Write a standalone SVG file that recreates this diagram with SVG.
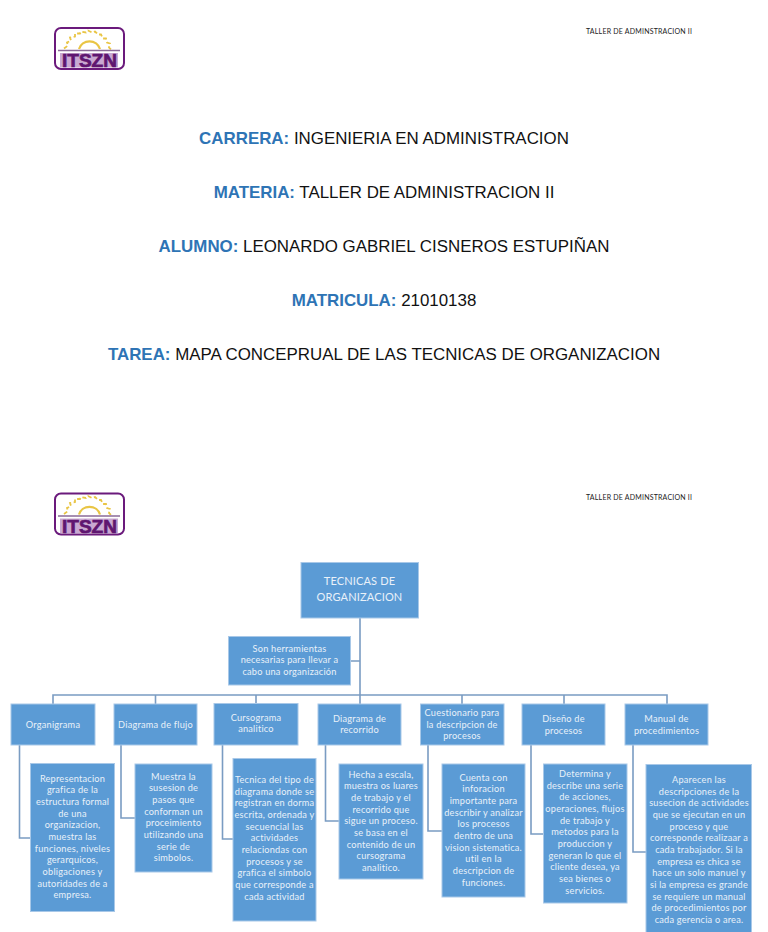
<svg xmlns="http://www.w3.org/2000/svg" width="768" height="932" viewBox="0 0 768 932">
<style>
.hd{font:16.9px "Liberation Sans",Arial,sans-serif;fill:#111;text-anchor:middle}
.hd tspan{font-weight:bold;fill:#2e74b5}
.tl{font:7px Lato,sans-serif;fill:#222}
.bx{fill:#5b9bd5;stroke:#a8c8e8;stroke-width:1}
.t{font:9.2px Lato,sans-serif;letter-spacing:.22px;fill:#e9f1f9;text-anchor:middle}
.t2{font:11px Lato,sans-serif;letter-spacing:.15px;fill:#e9f1f9;text-anchor:middle}
.c{fill:none;stroke:#7a9cc2;stroke-width:1.6}
.lg{font:bold 19px "Liberation Sans",sans-serif;fill:#5f1670;text-anchor:middle;stroke:#5f1670;stroke-width:.7}
</style>
<defs>
<g id="logoart">
<rect x="55" y="28" width="69" height="41" rx="6" fill="#fff" stroke="#6b1a7c" stroke-width="2"/>
<path d="M79 49a11 11 0 0 1 21 0" fill="none" stroke="#e9c545" stroke-width="2.200"/>
<path transform="translate(0 2.500)" d="M64 46l4-3-1-3 4-2-1-3 5-1 0-3 5 0 1-2 5 1 2-2 4 2 3-1 3 3 3 0 2 4 3 0 1 4 3 1-1 4 3 3" fill="none" stroke="#e9c545" stroke-width="1.800" stroke-dasharray="4 2.500"/>
<path d="M58 50.500H120" stroke="#8a6a98" stroke-width="1.600"/>
<rect x="60" y="53" width="58" height="14.500" fill="#c9a8d2"/>
</g>
</defs>
<rect width="768" height="932" fill="#fff"/>
<g id="logo1"><use href="#logoart"/><text class="lg" x="89.500" y="67" textLength="55" lengthAdjust="spacingAndGlyphs">ITSZN</text></g>
<text id="header1" class="tl" x="586" y="34" textLength="106">TALLER DE ADMINSTRACION II</text>
<g id="titles">
<text class="hd" x="384" y="144"><tspan>CARRERA:</tspan> INGENIERIA EN ADMINISTRACION</text>
<text class="hd" x="384" y="198"><tspan>MATERIA:</tspan> TALLER DE ADMINISTRACION II</text>
<text class="hd" x="384" y="252"><tspan>ALUMNO:</tspan> LEONARDO GABRIEL CISNEROS ESTUPIÑAN</text>
<text class="hd" x="384" y="306"><tspan>MATRICULA:</tspan> 21010138</text>
<text class="hd" x="384" y="360"><tspan>TAREA:</tspan> MAPA CONCEPRUAL DE LAS TECNICAS DE ORGANIZACION</text>
</g>
<g id="logo2"><use href="#logoart" y="465.500"/><text class="lg" x="89.500" y="532.500" textLength="55" lengthAdjust="spacingAndGlyphs">ITSZN</text></g>
<text id="header2" class="tl" x="586" y="500" textLength="106">TALLER DE ADMINSTRACION II</text>
<g id="connectors">
<path class="c" d="M360 618V704M350 661H360M53 704V695H667V704M155.500 695V704M256 695V703M462 695V704M564 695V704"/>
<path class="c" d="M19.500 745V838H30M121 745V818H135M222.500 745V839H233M325.500 745V821H339M428 745V831H442M531 745V834H543M633 745V852H646"/>
</g>
<g id="n-top"><rect class="bx" x="301" y="562.500" width="117.500" height="55.500"/><text class="t2" x="359.500" y="585">TECNICAS DE</text><text class="t2" x="359.500" y="600.700">ORGANIZACION</text></g>
<g id="n-son"><rect class="bx" x="228.500" y="636.500" width="122" height="48.500"/><text class="t" x="289.500" y="651.700">Son herramientas</text><text class="t" x="289.500" y="663.300">necesarias para llevar a</text><text class="t" x="289.500" y="675">cabo una organización</text></g>
<g id="n-organigrama"><rect class="bx" x="11" y="704" width="84" height="41"/><text class="t" x="53" y="727.700">Organigrama</text></g>
<g id="n-flujo"><rect class="bx" x="114" y="704" width="83" height="41"/><text class="t" x="155.500" y="727.700">Diagrama de flujo</text></g>
<g id="n-cursograma"><rect class="bx" x="214" y="703.500" width="84" height="41.500"/><text class="t" x="256" y="720.700">Cursograma</text><text class="t" x="256" y="732.300">analitico</text></g>
<g id="n-recorrido"><rect class="bx" x="318" y="704" width="83" height="41"/><text class="t" x="359.500" y="721.700">Diagrama de</text><text class="t" x="359.500" y="733">recorrido</text></g>
<g id="n-cuestionario"><rect class="bx" x="420.500" y="704" width="83.500" height="41"/><text class="t" x="462" y="715.700">Cuestionario para</text><text class="t" x="462" y="727.500">la descripcion de</text><text class="t" x="462" y="739">procesos</text></g>
<g id="n-diseno"><rect class="bx" x="522" y="704" width="83" height="41"/><text class="t" x="563.500" y="721.500">Diseño de</text><text class="t" x="563.500" y="733.500">procesos</text></g>
<g id="n-manual"><rect class="bx" x="625" y="704" width="83" height="41"/><text class="t" x="666.500" y="721.500">Manual de</text><text class="t" x="666.500" y="733.500">procedimientos</text></g>
<g id="d-organigrama"><rect class="bx" x="30.500" y="763.500" width="84" height="148"/>
<text class="t" x="72.500" y="781.600">Representacion</text><text class="t" x="72.500" y="793.300">grafica de la</text><text class="t" x="72.500" y="805">estructura formal</text><text class="t" x="72.500" y="816.600">de una</text><text class="t" x="72.500" y="828.300">organizacion,</text><text class="t" x="72.500" y="840">muestra las</text><text class="t" x="72.500" y="851.600">funciones, niveles</text><text class="t" x="72.500" y="863.300">gerarquicos,</text><text class="t" x="72.500" y="875">obligaciones y</text><text class="t" x="72.500" y="886.600">autoridades de a</text><text class="t" x="72.500" y="898.300">empresa.</text></g>
<g id="d-flujo"><rect class="bx" x="135" y="764" width="77" height="108"/>
<text class="t" x="173.500" y="779.600">Muestra la</text><text class="t" x="173.500" y="791.300">susesion de</text><text class="t" x="173.500" y="803">pasos que</text><text class="t" x="173.500" y="814.600">conforman un</text><text class="t" x="173.500" y="826.300">proceimiento</text><text class="t" x="173.500" y="838">utilizando una</text><text class="t" x="173.500" y="849.600">serie de</text><text class="t" x="173.500" y="861.300">simbolos.</text></g>
<g id="d-cursograma"><rect class="bx" x="233" y="758.500" width="83" height="162.500"/>
<text class="t" x="274.500" y="783">Tecnica del tipo de</text><text class="t" x="274.500" y="794.700">diagrama donde se</text><text class="t" x="274.500" y="806.400">registran en dorma</text><text class="t" x="274.500" y="818">escrita, ordenada y</text><text class="t" x="274.500" y="829.700">secuencial las</text><text class="t" x="274.500" y="841.400">actividades</text><text class="t" x="274.500" y="853">relaciondas con</text><text class="t" x="274.500" y="864.700">procesos y se</text><text class="t" x="274.500" y="876.400">grafica el simbolo</text><text class="t" x="274.500" y="888">que corresponde a</text><text class="t" x="274.500" y="899.700">cada actividad</text></g>
<g id="d-recorrido"><rect class="bx" x="339" y="764" width="84" height="115"/>
<text class="t" x="381" y="777.700">Hecha a escala,</text><text class="t" x="381" y="789.400">muestra os luares</text><text class="t" x="381" y="801">de trabajo y el</text><text class="t" x="381" y="812.700">recorrido que</text><text class="t" x="381" y="824.400">sigue un proceso.</text><text class="t" x="381" y="836">se basa en el</text><text class="t" x="381" y="847.700">contenido de un</text><text class="t" x="381" y="859.400">cursograma</text><text class="t" x="381" y="871">analitico.</text></g>
<g id="d-cuestionario"><rect class="bx" x="442" y="764" width="83" height="133"/>
<text class="t" x="483.500" y="780.700">Cuenta con</text><text class="t" x="483.500" y="792.400">inforacion</text><text class="t" x="483.500" y="804">importante para</text><text class="t" x="483.500" y="815.700">describir y analizar</text><text class="t" x="483.500" y="827.400">los procesos</text><text class="t" x="483.500" y="839">dentro de una</text><text class="t" x="483.500" y="850.700">vision sistematica.</text><text class="t" x="483.500" y="862.400">util en la</text><text class="t" x="483.500" y="874">descripcion de</text><text class="t" x="483.500" y="885.700">funciones.</text></g>
<g id="d-diseno"><rect class="bx" x="543.500" y="764" width="83.500" height="139"/>
<text class="t" x="585" y="777">Determina y</text><text class="t" x="585" y="788.700">describe una serie</text><text class="t" x="585" y="800.400">de acciones,</text><text class="t" x="585" y="812">operaciones, flujos</text><text class="t" x="585" y="823.700">de trabajo y</text><text class="t" x="585" y="835.400">metodos para la</text><text class="t" x="585" y="847">produccion y</text><text class="t" x="585" y="858.700">generan lo que el</text><text class="t" x="585" y="870.400">cliente desea, ya</text><text class="t" x="585" y="882">sea bienes o</text><text class="t" x="585" y="893.700">servicios.</text></g>
<g id="d-manual"><rect class="bx" x="646" y="764.500" width="105.500" height="169"/>
<text class="t" x="699" y="783">Aparecen las</text><text class="t" x="699" y="794.700">descripciones de la</text><text class="t" x="699" y="806.400">susecion de actividades</text><text class="t" x="699" y="818">que se ejecutan en un</text><text class="t" x="699" y="829.700">proceso y que</text><text class="t" x="699" y="841.400">corresponde realizaar a</text><text class="t" x="699" y="853">cada trabajador. Si la</text><text class="t" x="699" y="864.700">empresa es chica se</text><text class="t" x="699" y="876.400">hace un solo manuel y</text><text class="t" x="699" y="888">si la empresa es grande</text><text class="t" x="699" y="899.700">se requiere un manual</text><text class="t" x="699" y="911.400">de procedimientos por</text><text class="t" x="699" y="923">cada gerencia o area.</text></g>
</svg>
